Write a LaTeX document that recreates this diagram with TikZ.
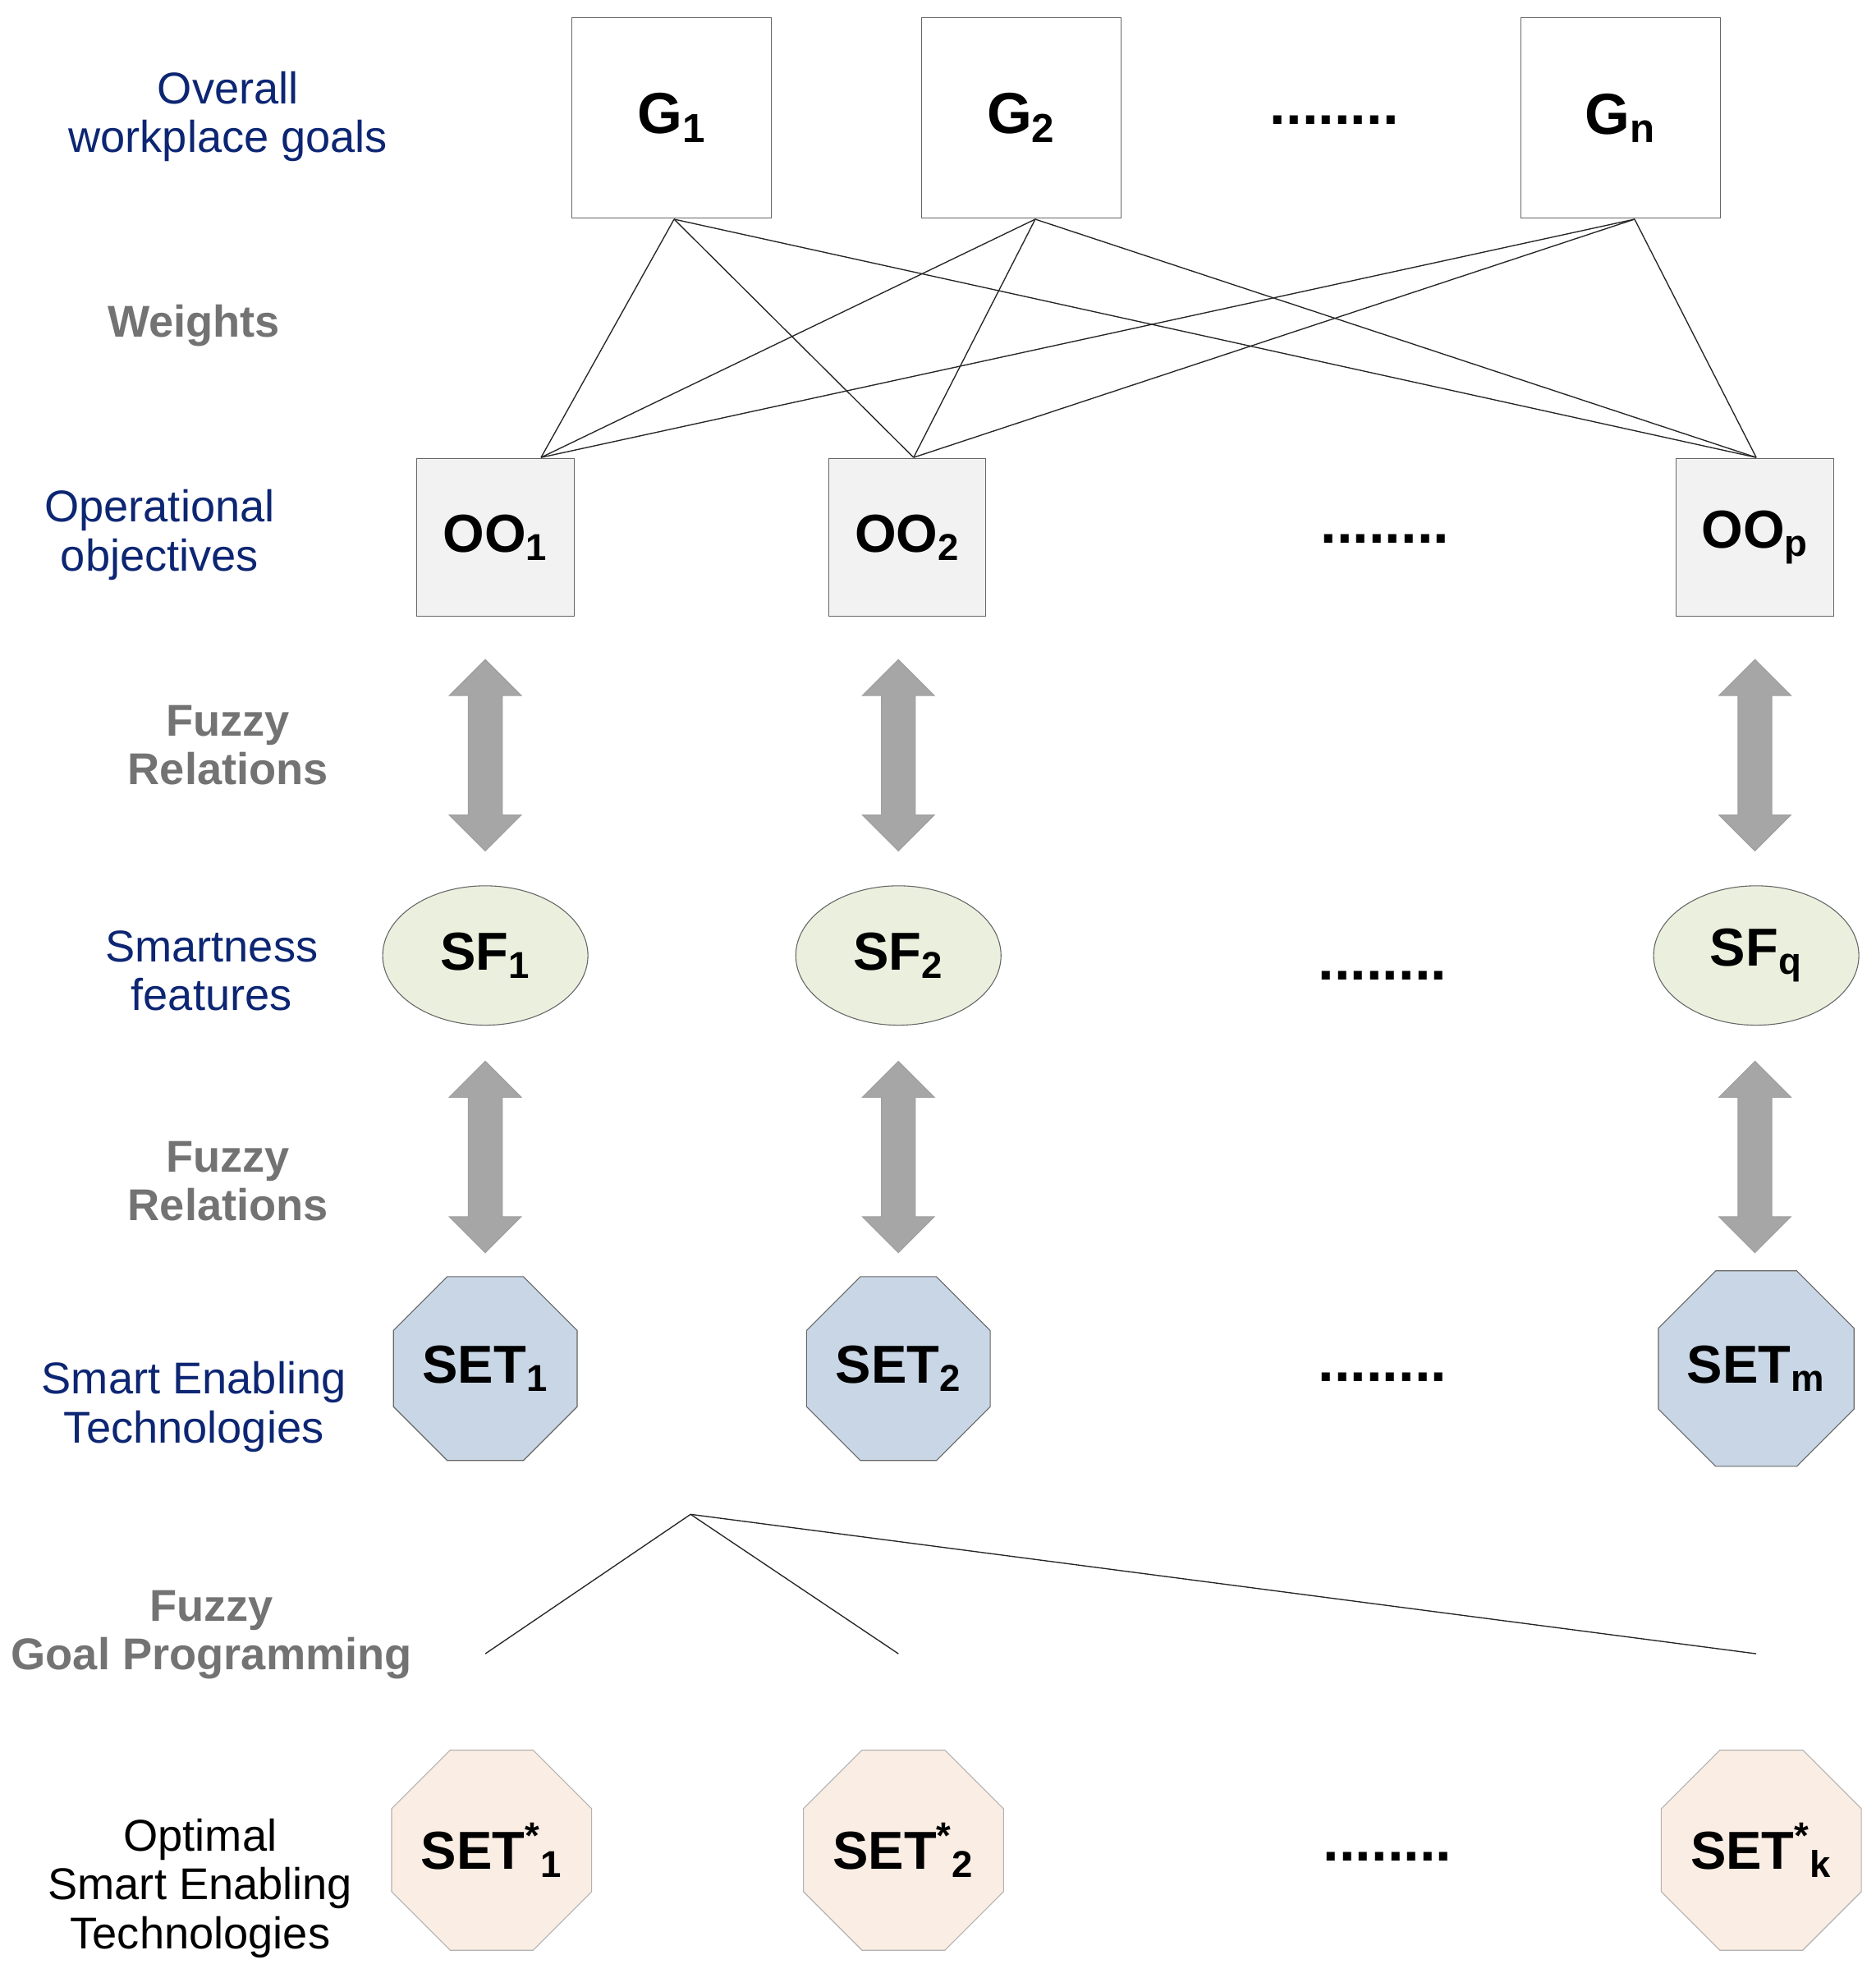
\documentclass[tikz,border=0pt]{standalone}
\usepackage{fontspec}
\setmainfont{Liberation Sans}
\usetikzlibrary{shapes.geometric,shapes.arrows}

\definecolor{navy}{rgb}{0.05, 0.15, 0.45}
\definecolor{wgray}{rgb}{0.45, 0.45, 0.45}
\definecolor{oofill}{rgb}{0.95, 0.95, 0.95}
\definecolor{sffill}{rgb}{0.92, 0.94, 0.87}
\definecolor{setfill}{rgb}{0.79, 0.84, 0.90}
\definecolor{optfill}{rgb}{0.98, 0.93, 0.89}

\begin{document}
\begin{tikzpicture}[x=0.02cm, y=-0.02cm]

\tikzset{
  goal/.style = {draw=gray!80!black, minimum size=3.16cm, font=\fontsize{26}{30}\selectfont\bfseries},
  obj/.style = {draw=gray!80!black, fill=oofill, minimum size=2.48cm, font=\fontsize{24}{28}\selectfont\bfseries},
  feat/.style = {ellipse, draw=gray!80!black, fill=sffill, minimum width=3.24cm, minimum height=2.2cm, inner sep=0pt, font=\fontsize{24}{28}\selectfont\bfseries},
  tech/.style = {regular polygon, regular polygon sides=8, draw=gray!80!black, fill=setfill, minimum size=3.14cm, inner sep=0pt, font=\fontsize{24}{28}\selectfont\bfseries},
  opt/.style = {tech, fill=optfill, draw=gray!60},
  rel/.style = {double arrow, shape border rotate=90, draw=gray!75, fill=gray!70, minimum height=3.02cm, double arrow head extend=0.3cm, inner sep=0.26cm},
  lbl/.style = {align=center, text=navy, font=\fontsize{20}{22}\selectfont},
  glbl/.style = {align=center, text=wgray, font=\fontsize{20}{22}\selectfont\bfseries},
  dots/.style = {font=\fontsize{26}{30}\selectfont\bfseries},
  link/.style = {gray!30!black, line width=0.5pt},
}

\useasboundingbox (0,0) rectangle (1480,1568);

% labels on the left
\node[lbl] at (180,92) {Overall\\workplace goals};
\node[glbl] at (153,257) {Weights};
\node[lbl] at (126,422) {Operational\\objectives};
\node[glbl] at (180,588) {Fuzzy\\Relations};
\node[lbl] at (167,766) {Smartness\\features};
\node[glbl] at (180,932) {Fuzzy\\Relations};
\node[lbl] at (153,1110) {Smart Enabling\\Technologies};
\node[glbl] at (167,1290) {Fuzzy\\Goal Programming};
\node[align=center, font=\fontsize{20}{22}\selectfont] at (158,1490) {Optimal\\Smart Enabling\\Technologies};

% goals
\node[goal] (g1) at (530,93) {G\textsubscript{1}};
\node[goal] (g2) at (806,93) {G\textsubscript{2}};
\node[goal] (gn) at (1279,93) {G\textsubscript{n}};
\node[dots] at (1053,95) {........};

% operational objectives
\node[obj] (oo1) at (391,424) {OO\textsubscript{1}};
\node[obj] (oo2) at (716,424) {OO\textsubscript{2}};
\node[obj] (oop) at (1385,424) {OO\textsubscript{p}};
\node[dots] at (1093,425) {........};

% weights
\coordinate (w1) at (532,173);
\coordinate (w2) at (817,173);
\coordinate (wn) at (1290,173);
\coordinate (t1) at (427,361);
\coordinate (t2) at (721,361);
\coordinate (tp) at (1386,361);
\foreach \a in {w1,w2,wn}
  \foreach \b in {t1,t2,tp}
    \draw[link] (\a) -- (\b);

% smartness features
\node[feat] (sf1) at (383,754) {SF\textsubscript{1}};
\node[feat] (sf2) at (709,754) {SF\textsubscript{2}};
\node[feat] (sfq) at (1386,754) {SF\textsubscript{q}};
\node[dots] at (1091,770) {........};

% smart enabling technologies
\node[tech] (set1) at (383,1080) {SET\textsubscript{1}};
\node[tech] (set2) at (709,1080) {SET\textsubscript{2}};
\node[tech] (setm) at (1386,1080) {SET\textsubscript{m}};
\node[dots] at (1091,1087) {........};

% fuzzy relations
\node[rel] (r1) at (383,596) {};
\node[rel] (r2) at (709,596) {};
\node[rel] (r3) at (1385,596) {};
\node[rel] (r4) at (383,913) {};
\node[rel] (r5) at (709,913) {};
\node[rel] (r6) at (1385,913) {};

% fuzzy goal programming
\coordinate (fgp) at (545,1195);
\coordinate (f1) at (383,1305);
\coordinate (f2) at (709,1305);
\coordinate (f3) at (1386,1305);
\foreach \b in {f1,f2,f3}
  \draw[link] (fgp) -- (\b);

% optimal technologies
\node[opt] (opt1) at (388,1460) {SET\textsuperscript{*}\textsubscript{1}};
\node[opt] (opt2) at (713,1460) {SET\textsuperscript{*}\textsubscript{2}};
\node[opt] (optk) at (1390,1460) {SET\textsuperscript{*}\textsubscript{k}};
\node[dots] at (1095,1465) {........};

\end{tikzpicture}
\end{document}
